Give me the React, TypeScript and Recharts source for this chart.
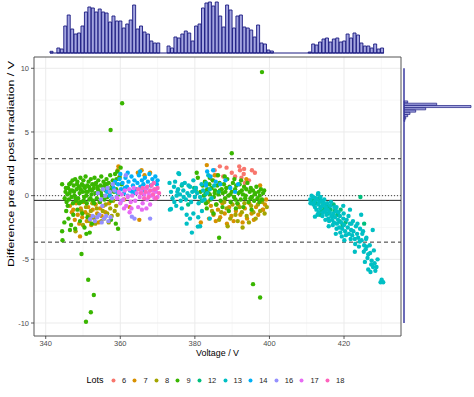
import React from 'react';
import {
  ScatterChart, Scatter, XAxis, YAxis, CartesianGrid, ReferenceLine, ReferenceArea,
  BarChart, Bar,
} from 'recharts';

const FONT = '"Liberation Sans", Arial, Helvetica, sans-serif';

type P = [number, number];

// ---- scatter data: [voltage, difference] per lot ----
const lot6: P[] = [[384.8,1.2],[385.3,2.0],[385.8,1.6],[386.7,2.3],[387.6,1.5],[388.5,2.2],[389.9,1.8],[390.8,1.5],[391.9,2.3],[392.1,2.0],[392.5,1.4],[393.1,1.7],[393.2,2.1],[393.4,1.0],[394.5,1.2],[395.3,2.0],[396.1,1.8]];

const lot7: P[] = [[346.5,-0.8],[347.0,-1.3],[347.4,-1.1],[347.8,-1.9],[348.2,-0.6],[348.6,-1.5],[349.0,-2.2],[349.2,-3.2],[349.4,-1.0],[349.8,-1.7],[350.2,-0.5],[350.6,-1.3],[351.0,-2.0],[351.4,-0.9],[351.8,-1.6],[352.2,-2.3],[352.6,-1.1],[353.0,-1.8],[353.4,-0.7],[353.8,-1.4],[354.2,-2.1],[354.6,-1.0],[355.0,-1.6],[355.5,-0.8],[356.0,-1.3],[357.0,-0.6],[359.3,2.0],[359.5,2.3],[359.8,1.5],[361.0,-0.3],[362.5,-0.9],[364.7,1.8],[365.1,-1.9],[365.7,2.0],[368.0,1.8],[366.5,1.6],
  [384.3,-0.8],[385.0,-1.5],[385.6,-2.0],[386.2,-1.1],[386.8,-1.7],[387.4,-0.6],[388.0,-1.4],[388.6,-2.2],[389.2,-0.9],[389.8,-1.6],[390.4,-2.0],[391.0,-1.2],[391.6,-0.7],[392.2,-1.5],[392.8,-2.1],[393.4,-1.0],[394.0,-1.8],[394.6,-0.6],[395.2,-1.4],[395.8,-1.9],[396.4,-0.9],[397.0,-1.5],[397.6,-0.4],[398.2,-1.1],[398.8,-0.7],[399.1,-0.3],[383.2,2.4],[385.3,1.6],[393.8,1.3],[381.6,-2.1],[383.8,-1.8],[397.5,0.8],[398.3,-1.1]];

const lot8: P[] = [[350.8,-0.9],[351.3,-1.5],[351.7,-2.0],[352.1,-1.2],[352.5,-0.6],[352.9,-1.7],[353.3,-2.2],[353.7,-1.0],[354.1,-1.5],[354.5,-0.5],[354.9,-2.0],[355.3,-1.2],[355.7,-1.8],[356.1,-0.7],[356.5,-1.4],[356.9,-2.1],[357.3,-1.0],[357.7,-1.6],[358.1,-0.4],[358.5,-1.2],[358.9,-0.8],[359.3,-1.5],[348.8,-0.5],[349.6,-1.2],[350.0,-2.3],[348.0,-2.8],
  [383.5,-0.5],[384.6,-1.2],[385.8,-0.7],[386.5,-1.9],[387.1,-1.3],[387.9,-0.5],[388.5,-1.0],[389.5,-1.8],[390.1,-0.7],[390.9,-1.5],[391.5,-2.0],[392.0,-0.9],[392.6,-1.3],[393.3,-0.6],[393.9,-1.6],[394.5,-2.1],[395.1,-0.8],[395.7,-1.3],[396.3,-1.8],[396.9,-0.7],[397.5,-1.2],[398.1,-0.5],[398.7,-1.4],[399.3,-0.9],[388.8,-2.4],[392.8,-2.5]];

const lot9: P[] = [[344.4,0.9],[344.4,-2.8],[344.5,-3.5],[345.1,-0.2],[345.3,0.3],[345.6,-0.5],[345.8,0.1],[346.0,0.6],[346.2,-0.3],[346.4,0.2],[346.7,1.0],[346.9,-0.1],[347.1,0.4],[347.3,-0.6],[347.5,0.8],[347.7,0.0],[347.9,1.3],[348.1,-0.4],[348.3,0.5],[348.5,1.1],[348.7,-0.2],[348.9,0.7],[349.1,0.2],[349.3,1.4],[349.5,-0.5],[349.7,0.9],[349.9,0.3],[350.1,1.2],[350.3,-0.1],[350.5,0.6],[350.7,1.5],[350.9,0.0],[351.1,0.8],[351.3,0.3],[351.5,1.1],[351.7,-0.3],[351.9,0.5],[352.1,1.3],[352.3,0.1],[352.5,0.9],[352.7,-0.4],[352.9,0.6],[353.1,1.4],[353.3,0.2],[353.5,1.0],[353.7,-0.2],[353.9,0.7],[354.1,1.2],[354.3,0.3],[354.5,-0.5],[354.7,0.8],[354.9,1.5],[355.1,0.0],[355.3,0.5],[355.5,1.1],[355.7,-0.3],[355.9,0.9],[356.1,0.4],[356.3,1.3],[356.5,-0.1],[356.7,0.6],[356.9,1.0],[357.1,0.2],[357.3,1.6],[357.5,-0.4],[357.8,0.8],[358.0,1.2],[358.3,0.3],[358.6,1.7],[358.9,0.5],[359.2,1.9],[359.5,0.1],[359.8,1.4],[360.1,2.2],[360.4,0.9],[346.3,0.9],[347.2,1.2],[348.0,-0.2],[349.0,-0.6],[350.2,-0.4],[351.0,-0.6],[352.0,-0.2],[353.0,-0.6],[345.5,-1.2],[346.1,-1.8],[346.8,-2.3],[347.4,-1.5],[347.9,-2.6],[348.5,-1.1],[349.2,-2.0],[349.8,-1.4],[350.4,-2.5],[351.2,-1.7],[351.8,-2.9],[352.4,-2.2],[345.0,-2.1],[346.5,-2.7],[350.9,-3.0],[357.5,-1.9],[358.8,-2.2],[359.4,-2.6],
  [345.4,0.6],[345.9,-0.8],[346.6,0.4],[347.6,0.3],[348.4,0.9],[349.4,0.5],[350.0,0.8],[350.8,0.3],[351.6,0.7],[352.4,0.4],[353.2,0.9],[354.0,0.5],[354.8,0.2],[355.6,0.7],[356.4,0.9],[357.6,0.5],[358.4,1.0],[359.0,1.3],
  [357.4,5.16],[360.5,7.25],[349.6,-4.58],[351.4,-6.6],[352.9,-7.8],[352.1,-9.16],[350.8,-9.9],[398.0,9.7],[389.9,3.33],[386.5,-3.3],[395.6,-6.95],[397.5,-8.0],
  [381.5,0.3],[381.8,-0.4],[382.1,0.8],[382.4,0.0],[382.7,1.1],[383.0,-0.6],[383.3,0.5],[383.6,0.2],[383.9,0.9],[384.2,-0.3],[384.5,0.6],[384.8,1.2],[385.1,-0.1],[385.4,0.4],[385.7,-0.7],[386.0,0.8],[386.3,0.1],[386.6,1.0],[386.9,-0.4],[387.2,0.5],[387.5,0.2],[387.8,0.9],[388.1,-0.2],[388.4,0.6],[388.7,1.3],[389.0,0.0],[389.3,0.7],[389.6,-0.5],[389.9,0.3],[390.2,1.0],[390.5,-0.1],[390.8,0.5],[391.1,0.8],[391.4,-0.6],[391.7,0.2],[392.0,0.9],[392.3,-0.3],[392.6,0.4],[392.9,0.1],[393.2,0.7],[393.5,-0.2],[393.8,0.5],[394.1,1.0],[394.4,-0.5],[394.7,0.3],[395.0,0.6],[395.3,-0.1],[395.6,0.4],[395.9,-0.4],[396.2,0.2],[396.5,0.7],[396.8,-0.2],[397.1,0.3],[397.4,0.0],[397.7,0.5],[398.0,-0.3],[398.3,0.2],[383.2,-1.0],[385.0,-1.4],[387.4,-0.9],[389.1,-1.2],[391.0,-1.0],[393.0,-0.9],[395.2,-1.1],[384.0,1.4],[386.2,1.6],[388.0,1.5],[390.6,1.3],[392.4,1.2],[380.8,1.4],[380.2,0.4],[380.5,1.8],
  [382.9,0.3],[384.0,0.1],[385.3,0.2],[386.7,0.4],[388.2,0.3],[389.5,0.1],[390.9,-0.3],[392.1,0.3],[393.6,0.0],[394.9,-0.2],[396.0,0.1],[397.3,-0.5],[398.6,0.4]];

const lot12: P[] = [[376.5,0.8],[379.8,0.6],[382.8,0.1],[378.2,-0.7],[386.4,0.3],
  [411.5,-0.4],[412.5,-0.6],[413.3,-0.2],[413.8,-0.9],[414.3,-0.5],[414.8,-1.0],[415.2,-0.7],[415.7,-1.4],[416.4,-1.1],[416.9,-1.6],[417.5,-1.2],[418.2,-1.5],[418.8,-2.0],[419.6,-2.3],[420.4,-2.1],[424.4,-0.1],[425.4,-2.2],[412.0,-0.2],[414.0,-1.2],[416.0,-0.9],[413.6,-1.5],[417.2,-0.7],[419.1,-1.1]];

const lot13: P[] = [[373.2,1.0],[373.6,0.3],[374.0,-0.2],[374.4,0.7],[374.7,1.1],[375.1,0.0],[375.5,0.5],[375.8,1.7],[376.2,-0.4],[376.6,0.9],[376.9,0.4],[377.3,1.0],[377.6,-0.3],[378.0,0.2],[378.3,0.8],[378.7,0.7],[379.0,-0.5],[379.3,0.3],[379.6,1.2],[380.0,-0.1],[380.3,0.6],[380.6,0.2],[381.0,-0.6],[381.4,-0.1],[381.8,0.9],[382.2,0.4],[382.6,-0.3],[383.0,1.0],[383.6,1.6],[384.0,0.5],[384.5,-0.2],[385.2,0.8],[373.3,-1.1],[375.0,-0.8],[376.5,-1.0],[377.8,-1.5],[378.7,-1.8],[379.6,-1.4],[380.9,-1.7],[381.9,-1.2],[377.8,-2.2],[381.4,-2.4],[384.0,-1.8],[379.2,-2.9],[376.0,0.1],[377.0,-0.1],[378.5,0.0],[380.0,0.4],[375.3,0.3],[374.5,-0.5],[382.0,-0.4],[383.3,0.2],[375.6,1.76],[373.6,-1.04],[380.8,-2.43],
  [410.9,-0.3],[411.3,0.0],[411.7,-0.1],[412.0,-0.5],[412.2,-0.9],[412.4,-0.2],[412.7,-0.3],[413.0,0.1],[413.1,-0.7],[413.4,-0.5],[413.6,-1.0],[413.9,-0.4],[414.1,-0.8],[414.4,-1.3],[414.6,-0.6],[414.9,-1.2],[415.1,-0.9],[415.3,-1.5],[415.6,-1.1],[415.8,-1.8],[416.1,-1.3],[416.3,-0.8],[416.6,-1.6],[416.8,-1.9],[417.1,-1.4],[417.3,-2.1],[417.6,-1.7],[417.9,-1.2],[418.1,-2.2],[418.4,-1.9],[418.7,-2.5],[418.9,-1.6],[419.2,-2.1],[419.5,-2.6],[419.8,-1.8],[420.0,-2.3],[420.3,-2.8],[420.7,-1.9],[421.0,-2.5],[421.3,-3.0],[421.6,-2.2],[421.9,-2.7],[422.2,-3.1],[422.5,-2.8],[422.9,-3.4],[423.2,-2.4],[423.5,-3.0],[423.8,-3.3],[424.2,-3.6],[424.7,-3.5],[425.1,-2.8],[425.4,-3.9],[425.8,-4.2],[426.1,-4.0],[426.5,-4.6],[427.0,-4.5],[427.4,-5.1],[427.8,-5.6],[426.5,-5.8],[425.6,-5.2],[428.7,-5.6],[427.7,-2.7],[422.9,-4.4],[419.4,-3.2],[412.2,-1.65],[418.0,-0.9],[419.8,-0.8],[421.6,-1.1],[429.8,-6.8],[430.1,-6.6],[430.5,-6.8],[424.6,-1.5],[413.1,0.2],
  [411.0,-0.6],[411.8,-0.7],[412.6,-1.1],[413.2,-1.3],[413.7,-0.1],[414.2,-1.6],[414.7,-0.3],[415.0,-1.9],[415.5,-0.6],[416.0,-2.0],[416.5,-0.5],[417.0,-2.3],[417.4,-0.9],[418.0,-2.6],[418.5,-1.3],[419.0,-2.9],[419.9,-1.4],[420.5,-3.1],[421.2,-1.6],[421.8,-3.4],[422.4,-2.0],[423.0,-3.8],[423.6,-2.2],[424.0,-4.0],[424.9,-3.0],[425.3,-4.4],[425.9,-3.4],[426.3,-4.9],[426.9,-3.9],[427.3,-5.4],[428.0,-4.3],[428.4,-5.9],[429.0,-5.0],[412.9,-1.5],[415.9,-2.4],[417.8,-3.0],[420.1,-3.5],[422.0,-2.2],[424.3,-2.6],[426.0,-3.3],[428.2,-5.3],[427.1,-6.0]];

const lot14: P[] = [[358.2,0.6],[358.6,1.1],[359.0,0.3],[359.4,0.9],[359.8,1.3],[360.2,0.5],[360.6,1.0],[361.0,0.2],[361.4,1.4],[361.8,0.7],[362.2,1.1],[362.6,0.4],[363.0,1.5],[363.4,0.8],[363.8,1.2],[364.2,0.5],[364.6,1.0],[365.0,1.6],[365.4,0.7],[365.8,1.2],[366.2,0.9],[366.6,1.4],[367.0,0.6],[367.4,1.1],[367.8,1.7],[368.2,0.8],[368.6,1.3],[369.0,1.0],[369.4,1.5],[369.8,0.9],[360.0,1.7],[362.0,1.8],[366.0,0.4],[364.0,0.2],[370.0,1.2],[363.2,0.3],[361.2,0.6],[365.3,1.9],[356.4,0.3],[357.2,0.0],
  [383.3,1.9],[384.2,1.5],[384.9,2.0],[385.6,1.1],[386.8,0.9],[388.2,1.2],[389.5,0.6],[390.8,0.3],[391.6,0.9],[383.0,0.8]];

const lot16: P[] = [[351.9,-1.85],[352.6,-1.6],[353.2,-2.0],[353.8,-1.7],[354.4,-1.5],[355.0,-2.1],[355.6,-1.8],[356.2,-1.6],[356.8,-2.0],[357.4,-1.7],[354.0,0.2],[354.8,-0.3],[355.4,0.5],[356.0,0.0],[356.6,0.6],[357.2,0.3],[357.8,-0.2],[358.4,0.4],[359.0,-0.1],[359.6,0.2],[360.3,-0.4],[361.5,1.6],[363.1,-1.65],[363.8,-1.8],[368.0,-1.8],[358.0,0.9],[355.2,-0.8],[362.0,0.0]];

const lot17: P[] = [[359.2,-0.2],[359.6,0.3],[360.0,-0.6],[360.4,0.1],[360.8,-0.3],[361.2,0.4],[361.6,-0.8],[362.0,-0.1],[362.4,0.5],[362.8,-0.5],[363.2,0.0],[363.6,0.6],[364.0,-0.4],[364.4,0.2],[364.8,-0.9],[365.2,-0.1],[365.6,0.4],[366.0,-0.6],[366.4,0.1],[366.8,0.5],[367.2,-0.3],[367.6,0.2],[368.0,-0.7],[368.4,0.0],[368.8,0.4],[369.2,-0.2],[369.6,0.3],[370.0,-0.1],[363.0,-1.0],[365.8,-1.1],[361.0,-1.0],[367.0,-1.0],[362.5,-1.3]];

const lot18: P[] = [[365.5,0.2],[366.0,0.6],[366.4,-0.2],[366.8,0.3],[367.2,0.7],[367.6,-0.1],[368.0,0.4],[368.4,0.8],[368.8,0.1],[369.2,0.5],[369.6,-0.2],[370.0,0.6],[370.4,0.2],[364.8,0.5],[369.0,1.0]];

const lotNames = ['6', '7', '8', '9', '12', '13', '14', '16', '17', '18'];
const lotColors = ['#F8766D', '#D89000', '#A3A500', '#39B600', '#00BF7D', '#00BFC4', '#00B0F6', '#9590FF', '#E76BF3', '#FF62BC'];
const lotPoints = [lot6, lot7, lot8, lot9, lot12, lot13, lot14, lot16, lot17, lot18];

// ---- reference lines (mean difference and limits of agreement) ----
const meanDiff = -0.37;
const upperLimit = 2.9;
const lowerLimit = -3.65;

// ---- axes ----
const xDomain: [number, number] = [336.86, 435.28];
const yDomain: [number, number] = [-11.02, 10.887];
const xTicks = [340, 360, 380, 400, 420];
const yTicks = [-10, -5, 0, 5, 10];
const xMinor = [350, 370, 390, 410, 430];
const yMinor = [-7.5, -2.5, 2.5, 7.5];

// ---- marginal histograms ----
const topCounts = [1.7, 0, 5, 4, 27, 38, 24, 19, 20, 27, 41, 46, 45, 41, 44, 41, 40, 31, 37, 32, 32, 25, 29, 33, 48, 24, 27, 21, 19, 12, 10, 10, 0, 0, 7, 5, 16, 15, 19, 22, 20, 12, 27, 29, 45, 50, 51, 47, 51, 37, 26, 48, 43, 25, 37, 38, 26, 25, 23, 16, 28, 10, 9, 3, 2, 0, 0, 0, 0, 0, 0, 0, 0, 0, 0, 1, 9, 8, 11, 14, 15, 11, 14, 15, 11, 12, 19, 15, 20, 18, 10, 7, 7, 5, 9, 4, 5];
const rightBinMid = [7.35, 7.17, 6.99, 6.81, 6.63, 6.45, 6.27, 6.08, 5.9];
const rightCounts = [3.7, 32.7, 67, 21.7, 11.7, 6, 3.7, 1.7, 0.8];

const HIST_FILL = '#A4A6E0';
const HIST_STROKE = '#1A1A80';

const topData = topCounts.map((c, i) => ({ bin: i, c }));
const rightData = rightBinMid.map((m, i) => ({ mid: m, c: rightCounts[i] }));

const makeDot = (color: string) => (props: any) => (
  <circle cx={props.cx} cy={props.cy} r={2.2} fill={color} />
);

const XTitle = (props: any) => {
  const vb = props.viewBox || { x: 34, y: 336, width: 367, height: 25 };
  const x = vb.x + vb.width / 2;
  const y = vb.y + 16.5;
  return (
    <text x={x} y={y} dy="0.35em" textAnchor="middle" fontSize={9.5} fontFamily={FONT} fill="#000"
      textLength={43} lengthAdjust="spacingAndGlyphs">Voltage / V</text>
  );
};

const YTitle = (props: any) => {
  const vb = props.viewBox || { x: 4, y: 57, width: 30, height: 279 };
  const x = vb.x + 6.5;
  const y = vb.y + vb.height / 2 - 32.5;
  return (
    <text x={x} y={y} dy="0.35em" textAnchor="middle" fontSize={9.5} fontFamily={FONT} fill="#000"
      transform={`rotate(-90, ${x}, ${y})`} textLength={206} lengthAdjust="spacingAndGlyphs">
      Difference pre and post Irradiation / V
    </text>
  );
};

const LegendRow = () => (
  <div style={{ position: 'absolute', left: 86.5, top: 373, height: 14, display: 'flex', alignItems: 'center', fontFamily: FONT, color: '#000' }}>
    <span style={{ fontSize: 9, marginRight: 7.5 }}>Lots</span>
    {lotNames.map((n, i) => (
      <span key={n} style={{ display: 'inline-flex', alignItems: 'center', marginRight: 6.3 }}>
        <svg width={5} height={5} style={{ display: 'block' }}>
          <circle cx={2.5} cy={2.5} r={2} fill={lotColors[i]} />
        </svg>
        <span style={{ fontSize: 7.5, marginLeft: 6, color: '#1A1A1A' }}>{n}</span>
      </span>
    ))}
  </div>
);

export default function App() {
  return (
    <div style={{ position: 'absolute', left: 0, top: 0, width: 474, height: 397, background: '#fff', overflow: 'hidden' }}>
      {/* top marginal histogram */}
      <div style={{ position: 'absolute', left: 0, top: 0 }}>
        <BarChart width={474} height={56} data={topData} margin={{ top: 2, right: 90, bottom: 3, left: 50 }} barCategoryGap={0}>
          <XAxis dataKey="bin" type="category" hide />
          <YAxis type="number" domain={[0, 51]} hide />
          <Bar dataKey="c" fill={HIST_FILL} stroke={HIST_STROKE} strokeWidth={0.9} isAnimationActive={false} />
          <ReferenceLine y={0} stroke={HIST_STROKE} strokeWidth={1} />
        </BarChart>
      </div>

      {/* main scatter */}
      <div style={{ position: 'absolute', left: 0, top: 0 }}>
        <ScatterChart width={474} height={397} margin={{ top: 57, right: 73, bottom: 36, left: 4 }}>
          <CartesianGrid horizontalValues={yMinor} verticalValues={xMinor} stroke="#F2F2F2" strokeWidth={0.6} />
          <CartesianGrid horizontalValues={yTicks} verticalValues={xTicks} stroke="#EBEBEB" strokeWidth={1} />
          <XAxis type="number" dataKey="v" domain={xDomain} ticks={xTicks} allowDataOverflow
            height={25} tickSize={3} tickMargin={1.5} axisLine={false}
            tickLine={{ stroke: '#333', strokeWidth: 0.8 }}
            tick={{ fontSize: 7.5, fill: '#4D4D4D', fontFamily: FONT }}
            label={<XTitle />} />
          <YAxis type="number" dataKey="d" domain={yDomain} ticks={yTicks} allowDataOverflow
            width={30} tickSize={3} tickMargin={2} axisLine={false}
            tickLine={{ stroke: '#333', strokeWidth: 0.8 }}
            tick={{ fontSize: 7.5, fill: '#4D4D4D', fontFamily: FONT }}
            label={<YTitle />} />
          {lotPoints.map((pts, i) => (
            <Scatter key={lotNames[i]} name={lotNames[i]} data={pts.map(([v, d]) => ({ v, d }))}
              fill={lotColors[i]} shape={makeDot(lotColors[i])} isAnimationActive={false} />
          ))}
          <ReferenceLine y={upperLimit} stroke="#333" strokeWidth={1} strokeDasharray="4 3" />
          <ReferenceLine y={lowerLimit} stroke="#333" strokeWidth={1} strokeDasharray="4 3" />
          <ReferenceLine y={0} stroke="#444" strokeWidth={1} strokeDasharray="1 2" />
          <ReferenceLine y={meanDiff} stroke="#222" strokeWidth={1} />
          <ReferenceArea x1={xDomain[0]} x2={xDomain[1]} y1={yDomain[0]} y2={yDomain[1]} fill="none" stroke="#555" strokeWidth={1} />
        </ScatterChart>
      </div>

      {/* right marginal histogram */}
      <div style={{ position: 'absolute', left: 0, top: 0 }}>
        <BarChart width={474} height={397} data={rightData} layout="vertical" margin={{ top: 68.3, right: 3, bottom: 74, left: 403 }}>
          <XAxis type="number" domain={[0, 67]} hide />
          <YAxis type="number" dataKey="mid" domain={[-10, 10]} reversed width={1} tick={false} tickLine={false}
            axisLine={{ stroke: '#3A3AA0', strokeWidth: 1.5 }} allowDataOverflow />
          <Bar dataKey="c" barSize={2.3} fill={HIST_FILL} stroke={HIST_STROKE} strokeWidth={0.7} isAnimationActive={false} />
        </BarChart>
      </div>

      <LegendRow />
    </div>
  );
}
